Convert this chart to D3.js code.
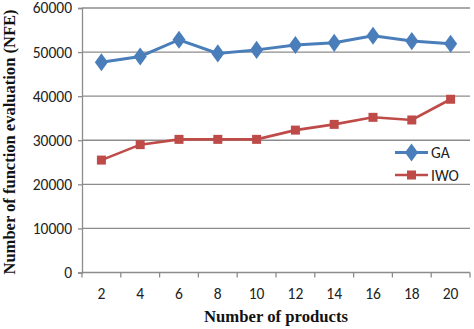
<!DOCTYPE html>
<html><head><meta charset="utf-8">
<script src="https://cdn.jsdelivr.net/npm/d3@7"></script>
<style>body{margin:0;background:#fff}svg{display:block}</style>
</head><body>
<svg id="c" width="474" height="329"></svg>
<script>
const categories = [2,4,6,8,10,12,14,16,18,20];
const gaValues  = [47700,49000,52800,49700,50500,51600,52100,53700,52500,51900];
const iwoValues = [25500,29000,30200,30200,30200,32300,33600,35200,34600,39300];
const yTicks = [0,10000,20000,30000,40000,50000,60000];
const seriesNames = ["GA","IWO"];

const svg = d3.select("#c");
const m = {l:82, r:470, t:8, b:272.5};
const x = d3.scaleBand().domain(categories).range([m.l, m.r]);
const y = d3.scaleLinear().domain([0,60000]).range([m.b, m.t]);
const grid = "#8c8c8c";
const tickFont = "Carlito, 'Open Sans', sans-serif";

// gridlines
svg.append("g").selectAll("line").data(yTicks.filter(d=>d>0)).join("line")
  .attr("x1", m.l).attr("x2", m.r).attr("y1", d=>y(d)).attr("y2", d=>y(d))
  .attr("stroke", grid).attr("stroke-width",1.3);

// y axis
const yAxis = svg.append("g").attr("transform",`translate(${m.l},0)`)
  .call(d3.axisLeft(y).tickValues(yTicks).tickSize(4).tickPadding(6).tickFormat(d3.format("d")));
yAxis.select(".domain").attr("stroke", grid).attr("stroke-width",1.3);
yAxis.selectAll(".tick line").attr("stroke", grid).attr("stroke-width",1.3);
yAxis.selectAll("text").attr("font-family",tickFont).attr("font-size","15.5px").attr("fill","#222");

// x axis with ticks at band edges
const xg = svg.append("g").attr("transform",`translate(0,${m.b})`);
xg.append("line").attr("x1", m.l).attr("x2", m.r).attr("stroke", grid).attr("stroke-width",1.3);
const edges = categories.map(c=>x(c)).concat([m.r]);
xg.selectAll("line.t").data(edges).join("line").attr("class","t")
  .attr("x1",d=>d).attr("x2",d=>d).attr("y1",0).attr("y2",5).attr("stroke",grid).attr("stroke-width",1.3);
xg.selectAll("text").data(categories).join("text")
  .attr("x", d=>x(d)+x.bandwidth()/2).attr("y", 26).attr("text-anchor","middle")
  .attr("font-family",tickFont).attr("font-size","15.5px").attr("fill","#222")
  .text(d=>d);

const cx = d => x(d)+x.bandwidth()/2;
const colors = {GA:"#4a7ebb", IWO:"#be4b48"};
const line = d3.line().x(d=>cx(d[0])).y(d=>y(d[1]));

// IWO
const iwo = categories.map((c,i)=>[c, iwoValues[i]]);
svg.append("path").datum(iwo).attr("d", line).attr("fill","none").attr("stroke",colors.IWO).attr("stroke-width",2.6);
svg.append("g").selectAll("rect").data(iwo).join("rect")
  .attr("x", d=>cx(d[0])-4.5).attr("y", d=>y(d[1])-4.5).attr("width",9).attr("height",9).attr("fill",colors.IWO);

// GA
const ga = categories.map((c,i)=>[c, gaValues[i]]);
svg.append("path").datum(ga).attr("d", line).attr("fill","none").attr("stroke",colors.GA).attr("stroke-width",3);
const diamond = d3.symbol().type(d3.symbolDiamond).size(95);
svg.append("g").selectAll("path").data(ga).join("path")
  .attr("transform", d=>`translate(${cx(d[0])},${y(d[1])}) scale(1.25,1)`)
  .attr("d", diamond()).attr("fill",colors.GA);

// legend
const lg = svg.append("g");
[["GA",152.5],["IWO",175]].forEach(([n,ly])=>{
  lg.append("line").attr("x1",395).attr("x2",428).attr("y1",ly).attr("y2",ly).attr("stroke",colors[n]).attr("stroke-width", n==="GA"?3:2.6);
  if(n==="GA") lg.append("path").attr("transform",`translate(411.5,${ly}) scale(1.25,1)`).attr("d",diamond()).attr("fill",colors.GA);
  else lg.append("rect").attr("x",407).attr("y",ly-4.5).attr("width",9).attr("height",9).attr("fill",colors.IWO);
  lg.append("text").attr("x",431).attr("y",ly+5.5).attr("font-family",tickFont).attr("font-size","15.5px").attr("fill","#222").text(n);
});

// axis titles
svg.append("text").attr("x",276).attr("y",322).attr("text-anchor","middle")
  .attr("font-family","'Liberation Serif', 'Times New Roman', serif").attr("font-weight","bold").attr("font-size","16px")
  .attr("textLength",144).attr("lengthAdjust","spacingAndGlyphs").attr("fill","#111")
  .text("Number of products");
svg.append("text").attr("transform","translate(15,142) rotate(-90)").attr("text-anchor","middle")
  .attr("font-family","'Liberation Serif', 'Times New Roman', serif").attr("font-weight","bold").attr("font-size","16px")
  .attr("textLength",265).attr("lengthAdjust","spacingAndGlyphs").attr("fill","#111")
  .text("Number of function evaluation (NFE)");
</script>
</body></html>
